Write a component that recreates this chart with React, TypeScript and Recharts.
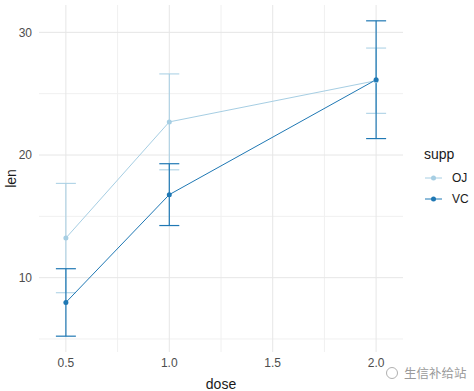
import React from "react";
import {
  ComposedChart,
  Line,
  ErrorBar,
  XAxis,
  YAxis,
  ReferenceLine,
} from "recharts";

const doses = [0.5, 1, 2];
const ojMean = [13.23, 22.7, 26.06];
const ojSd = [4.46, 3.91, 2.66];
const vcMean = [7.98, 16.77, 26.14];
const vcSd = [2.75, 2.52, 4.8];

const xTicks = [0.5, 1, 1.5, 2];
const xMinor = [0.75, 1.25, 1.75];
const yTicks = [10, 20, 30];
const yMinor = [5, 15, 25];

const OJ_COLOR = "#a6cee3";
const VC_COLOR = "#1f78b4";
const MAJOR_GRID = "#e6e6e6";
const MINOR_GRID = "#f0f0f0";
const FONT = "'Liberation Sans', Arial, sans-serif";

const data = doses.map((d, i) => ({
  dose: d,
  oj: ojMean[i],
  ojSd: ojSd[i],
  vc: vcMean[i],
  vcSd: vcSd[i],
}));

const legendItems = [
  { name: "OJ", color: OJ_COLOR },
  { name: "VC", color: VC_COLOR },
];

function SuppLegend() {
  return (
    <div style={{ position: "absolute", left: 424, top: 146, fontFamily: FONT, color: "#1a1a1a" }}>
      <div style={{ fontSize: 14, marginBottom: 5 }}>supp</div>
      {legendItems.map((it) => (
        <div key={it.name} style={{ display: "flex", alignItems: "center", height: 21 }}>
          <svg width={19} height={12}>
            <line x1={1} x2={18} y1={6} y2={6} stroke={it.color} strokeWidth={1} />
            <circle cx={9.5} cy={6} r={2.5} fill={it.color} />
          </svg>
          <span style={{ fontSize: 12, marginLeft: 9, color: "#1a1a1a" }}>{it.name}</span>
        </div>
      ))}
    </div>
  );
}

export default function App() {
  return (
    <div style={{ position: "absolute", left: 0, top: 0, width: 474, height: 391, background: "#fff" }}>
      <ComposedChart
        width={474}
        height={391}
        data={data}
        margin={{ top: 5, right: 71, bottom: 0, left: 0 }}
      >
        {xMinor.map((v) => (
          <ReferenceLine key={"xm" + v} x={v} stroke={MINOR_GRID} strokeWidth={1} />
        ))}
        {yMinor.map((v) => (
          <ReferenceLine key={"ym" + v} y={v} stroke={MINOR_GRID} strokeWidth={1} />
        ))}
        {xTicks.map((v) => (
          <ReferenceLine key={"x" + v} x={v} stroke={MAJOR_GRID} strokeWidth={1} />
        ))}
        {yTicks.map((v) => (
          <ReferenceLine key={"y" + v} y={v} stroke={MAJOR_GRID} strokeWidth={1} />
        ))}
        <XAxis
          dataKey="dose"
          type="number"
          domain={[0.37, 2.13]}
          ticks={xTicks}
          tickFormatter={(v) => v.toFixed(1)}
          allowDataOverflow
          height={39}
          axisLine={false}
          tickLine={false}
          tickSize={6}
          tickMargin={0}
          tick={{ fill: "#4d4d4d", fontSize: 12, fontFamily: FONT }}
          label={{
            value: "dose",
            position: "insideBottom",
            offset: 2,
            fill: "#1a1a1a",
            fontSize: 14,
            fontFamily: FONT,
          }}
        />
        <YAxis
          type="number"
          domain={[3.94, 32.23]}
          ticks={yTicks}
          allowDataOverflow
          width={39}
          axisLine={false}
          tickLine={false}
          tickSize={6}
          tickMargin={1}
          tick={{ fill: "#4d4d4d", fontSize: 12, fontFamily: FONT }}
          label={{
            value: "len",
            angle: -90,
            position: "insideLeft",
            offset: 11,
            fill: "#1a1a1a",
            fontSize: 14,
            fontFamily: FONT,
            style: { textAnchor: "middle" },
          }}
        />
        <Line
          dataKey="oj"
          stroke={OJ_COLOR}
          strokeWidth={1}
          dot={{ r: 2.5, fill: OJ_COLOR, stroke: OJ_COLOR, strokeWidth: 0 }}
          activeDot={false}
          isAnimationActive={false}
        >
          <ErrorBar dataKey="ojSd" width={10} stroke={OJ_COLOR} strokeWidth={1} direction="y" isAnimationActive={false} />
        </Line>
        <Line
          dataKey="vc"
          stroke={VC_COLOR}
          strokeWidth={1}
          dot={{ r: 2.5, fill: VC_COLOR, stroke: VC_COLOR, strokeWidth: 0 }}
          activeDot={false}
          isAnimationActive={false}
        >
          <ErrorBar dataKey="vcSd" width={10} stroke={VC_COLOR} strokeWidth={1.2} direction="y" isAnimationActive={false} />
        </Line>
      </ComposedChart>
      <SuppLegend />
      <div
        style={{
          position: "absolute",
          left: 386,
          top: 363,
          fontFamily: "'Noto Sans CJK SC', sans-serif",
          fontSize: 12.5,
          color: "#9a9a9a",
          display: "flex",
          alignItems: "center",
        }}
      >
        <span
          style={{
            display: "inline-block",
            width: 10,
            height: 10,
            border: "1px solid #b0b0b0",
            borderRadius: "50%",
            marginRight: 6,
          }}
        />
        生信补给站
      </div>
    </div>
  );
}
